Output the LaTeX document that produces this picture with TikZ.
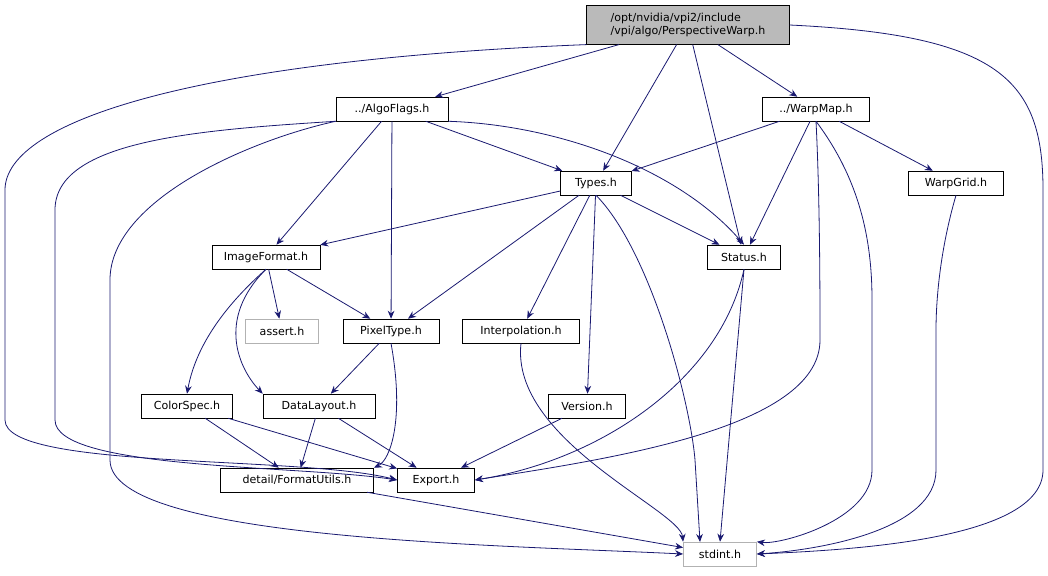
\documentclass[tikz,border=0pt]{standalone}
\usepackage{fontspec}
\setmainfont{DejaVu Sans}
\usetikzlibrary{arrows.meta}
\definecolor{edgecol}{HTML}{191970}
\tikzset{
  file/.style={draw=black, fill=white, inner sep=0pt, minimum height=18pt, font=\fontsize{8.3}{10}\selectfont},
  sys/.style={file, draw=black!30},
  dep/.style={draw=edgecol, -{Stealth[length=6pt,width=5pt]}, line width=0.6pt}
}
\begin{document}
\begin{tikzpicture}[x=0.75pt, y=-0.75pt]
\useasboundingbox (0,0) rectangle (1048,575);
% files
\node[file, fill=black!27, minimum width=152pt, minimum height=29pt, align=left] (root) at (688,25) {/opt/nvidia/vpi2/include\\/vpi/algo/PerspectiveWarp.h};
\node[file, minimum width=84pt] (algo) at (392,109) {../AlgoFlags.h};
\node[file, minimum width=80pt] (wmap) at (816,109) {../WarpMap.h};
\node[file, minimum width=53pt] (types) at (596,183) {Types.h};
\node[file, minimum width=71pt] (wgrid) at (956,183) {WarpGrid.h};
\node[file, minimum width=81pt] (imgf) at (266,257) {ImageFormat.h};
\node[file, minimum width=55pt] (status) at (744,257) {Status.h};
\node[sys, minimum width=55pt] (assert) at (282,331) {assert.h};
\node[file, minimum width=72pt] (pixt) at (391,331) {PixelType.h};
\node[file, minimum width=88pt] (interp) at (521,331) {Interpolation.h};
\node[file, minimum width=68pt] (cspec) at (187,406) {ColorSpec.h};
\node[file, minimum width=84pt] (dlay) at (319,406) {DataLayout.h};
\node[file, minimum width=58pt] (vers) at (587,406) {Version.h};
\node[file, minimum width=115pt] (futil) at (297,480) {detail/FormatUtils.h};
\node[file, minimum width=58pt] (export) at (436,480) {Export.h};
\node[sys, minimum width=55pt] (stdint) at (720,554) {stdint.h};
% includes
\draw[dep] (root) -- (algo);
\draw[dep] (root) -- (wmap);
\draw[dep] (root) -- (types);
\draw[dep] (root) -- (status);
\draw[dep] (root.south west) .. controls (200,60) and (5,120) .. (5,190) -- (5,420) .. controls (5,470) and (300,455) .. (export.west);
\draw[dep] (root.east) .. controls (1000,35) and (1043,80) .. (1043,190) -- (1043,470) .. controls (1043,540) and (850,550) .. (stdint.east);
\draw[dep] (algo) -- (types);
\draw[dep] (algo) -- (imgf);
\draw[dep] (algo) -- (pixt);
\draw[dep] (algo.south east) .. controls (560,125) and (680,170) .. (status.north);
\draw[dep] (algo.south west) .. controls (200,130) and (55,140) .. (55,210) -- (55,420) .. controls (55,470) and (300,465) .. (export.west);
\draw[dep] (algo.south west) .. controls (250,140) and (110,200) .. (110,280) -- (110,460) .. controls (110,540) and (500,545) .. (stdint.west);
\draw[dep] (wmap) -- (types);
\draw[dep] (wmap) -- (status);
\draw[dep] (wmap) -- (wgrid);
\draw[dep] (wmap.south) .. controls (820,200) and (820,300) .. (820,340) .. controls (820,430) and (600,460) .. (export.east);
\draw[dep] (wmap.south) .. controls (860,180) and (872,240) .. (872,300) -- (872,470) .. controls (872,520) and (780,545) .. (stdint.north east);
\draw[dep] (types) -- (imgf);
\draw[dep] (types) -- (status);
\draw[dep] (types) -- (pixt);
\draw[dep] (types) -- (interp);
\draw[dep] (types) -- (vers);
\draw[dep] (types.south) .. controls (650,250) and (690,400) .. (695,460) -- (700,542);
\draw[dep] (wgrid.south) .. controls (940,250) and (936,300) .. (936,330) -- (936,470) .. controls (936,530) and (820,550) .. (stdint.east);
\draw[dep] (imgf) -- (assert);
\draw[dep] (imgf) -- (pixt);
\draw[dep] (imgf.south) .. controls (220,310) and (195,350) .. (cspec.north);
\draw[dep] (imgf.south) .. controls (215,320) and (240,370) .. (dlay.north west);
\draw[dep] (status.south) .. controls (720,380) and (600,460) .. (export.east);
\draw[dep] (status.south) -- (stdint.north);
\draw[dep] (pixt) -- (dlay);
\draw[dep] (pixt.south) .. controls (405,420) and (390,460) .. (futil.north east);
\draw[dep] (interp.south) .. controls (510,440) and (680,510) .. (stdint.north west);
\draw[dep] (cspec) -- (futil);
\draw[dep] (cspec) -- (export);
\draw[dep] (dlay) -- (futil);
\draw[dep] (dlay) -- (export);
\draw[dep] (vers) -- (export);
\draw[dep] (futil) -- (stdint);
\end{tikzpicture}
\end{document}
